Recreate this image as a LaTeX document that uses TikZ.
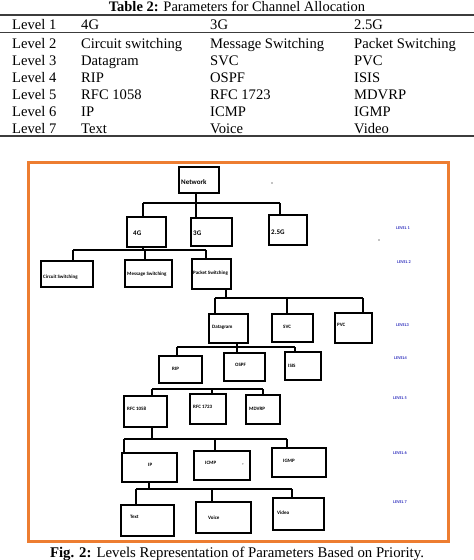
\documentclass[tikz,border=0pt]{standalone}
\usepackage{fontspec}
\setmainfont{Liberation Serif}
\newfontfamily\carl{Carlito}
\usetikzlibrary{calc}
\definecolor{frameor}{RGB}{237,125,49}
\definecolor{lvlblue}{RGB}{50,50,190}
\definecolor{rulegray}{RGB}{60,60,60}
\newcommand\bx[8]{%
  \node[box, minimum width={(#4-#2)*1pt}, minimum height={(#5-#3)*1pt}] (#1) at ({(#2+#4)/2},{(#3+#5)/2}) {};
  \node[btxt, anchor=west] (#1-t) at ({#2+#6},#7) {#8};}
\newcommand\drop[3]{\draw[conn] ([xshift=#2pt]#1.north) -- ([xshift=#2pt]#1.north |- #3);}
\newcommand\rise[3]{\draw[conn] ([xshift=#2pt]#1.south) -- ([xshift=#2pt]#1.south |- #3);}
\begin{document}
\begin{tikzpicture}[x=1pt,y=-1pt,
  box/.style={draw, line width=1.3pt, inner sep=0pt},
  btxt/.style={inner sep=0pt, font=\carl\bfseries\fontsize{5}{6}\selectfont},
  bigtxt/.style={inner sep=0pt, font=\carl\bfseries\fontsize{7}{8}\selectfont},
  conn/.style={line width=1.3pt},
  lvl/.style={inner sep=0pt, anchor=west, text=lvlblue, font=\carl\bfseries\fontsize{4.3}{5}\selectfont},
  tab/.style={inner sep=0pt, anchor=base west, font=\fontsize{14.6}{16}\selectfont},
  trule/.style={line width=1.4pt, draw=rulegray}]
\useasboundingbox (0,0) rectangle (474,560);
% ---------- table ----------
\node[inner sep=0pt, anchor=base, font=\fontsize{14.5}{16}\selectfont] (ttl) at (237,11.5) {\textbf{Table 2:} Parameters for Channel Allocation};
\coordinate (rl1) at (0,15); \coordinate (rr1) at (474,15);
\coordinate (rl2) at (0,32); \coordinate (rr2) at (474,32);
\coordinate (rl3) at (0,136); \coordinate (rr3) at (474,136);
\draw[trule] (rl1) -- (rr1);
\draw[trule, line width=1pt] (rl2) -- (rr2);
\draw[trule] (rl3) -- (rr3);
\foreach \r/\y/\a/\b/\c in {1/29/4G/3G/2.5G,
  2/48/Circuit switching/Message Switching/Packet Switching,
  3/65/Datagram/SVC/PVC,
  4/82/RIP/OSPF/ISIS,
  5/99/RFC 1058/RFC 1723/MDVRP,
  6/116/IP/ICMP/IGMP,
  7/133/Text/Voice/Video}{
  \node[tab] (lv\r) at (12,\y) {Level \r};
  \node[tab] (ca\r) at (81,\y) {\a};
  \node[tab] (cb\r) at (210,\y) {\b};
  \node[tab] (cc\r) at (354,\y) {\c};
}
% ---------- frame ----------
\draw[frameor, line width=3pt] (28,162) rectangle (448,541);
% ---------- boxes ----------
\node[box, minimum width=40pt, minimum height=26pt] (net) at (199,180) {};
\node[bigtxt, anchor=west] (net-t) at (181,182) {Network};
\node[box, minimum width=39pt, minimum height=30pt] (g4) at (146.5,232) {};
\node[bigtxt, anchor=west] (g4-t) at (133,233) {4G};
\node[box, minimum width=41pt, minimum height=28pt] (g3) at (211.5,232) {};
\node[bigtxt, anchor=west] (g3-t) at (193,233) {3G};
\node[box, minimum width=38pt, minimum height=30pt] (g25) at (288,230) {};
\node[bigtxt, anchor=west] (g25-t) at (271,232) {2.5G};
\bx{cs}{41}{261}{93}{287}{2}{277}{Circuit Switching}
\bx{ms}{125}{260}{172}{287}{2}{274}{Message Switching}
\bx{ps}{192}{259}{231}{289}{1}{273}{Packet Switching}
\bx{dg}{209}{314}{248}{343}{3}{327}{Datagram}
\bx{svc}{272}{314}{313}{342}{11}{327}{SVC}
\bx{pvc}{335}{313}{372}{343}{2}{325}{PVC}
\bx{rip}{159}{356}{202}{383}{13}{369}{RIP}
\bx{ospf}{224}{353}{265}{381}{11}{365}{OSPF}
\bx{isis}{285}{352}{321}{380}{3}{366}{ISIS}
\bx{ra}{124}{396}{167}{427}{3}{409}{RFC 1058}
\bx{rb}{190}{394}{226}{424}{3}{407}{RFC 1723}
\bx{md}{246}{395}{280}{424}{3}{409}{MDVRP}
\bx{ip}{122}{453}{177}{482}{26}{465}{IP}
\bx{icmp}{194}{451}{250}{480}{11}{463}{ICMP}
\bx{igmp}{272}{448}{326}{477}{11}{461}{IGMP}
\bx{txt}{121}{505}{174}{536}{9}{517}{Text}
\bx{voice}{196}{502}{251}{533}{12}{518}{Voice}
\bx{video}{273}{498}{324}{530}{4}{513}{Video}
% ---------- buses ----------
\coordinate (b1l) at (143,203); \coordinate (b1r) at (280,203);
\coordinate (b2l) at (73,250);  \coordinate (b2r) at (206,250);
\coordinate (b3l) at (215,298); \coordinate (b3r) at (363,298);
\coordinate (b4l) at (177,347); \coordinate (b4r) at (295,347);
\coordinate (b5l) at (152,389); \coordinate (b5r) at (263,389);
\coordinate (b6l) at (124,439); \coordinate (b6r) at (287,439);
\coordinate (b7l) at (136,489); \coordinate (b7r) at (292,489);
\foreach \i in {1,...,7}{\draw[conn] (b\i l) -- (b\i r);}
\rise{net}{-3}{b1l}
\drop{g4}{-3.5}{b1l} \drop{g3}{-15.5}{b1l} \drop{g25}{-8}{b1l}
\rise{g4}{-3.5}{b2l}
\drop{cs}{6}{b2l} \drop{ms}{-3.5}{b2l} \drop{ps}{-5.5}{b2l}
\rise{ps}{14.5}{b3l}
\drop{dg}{-13.5}{b3l} \drop{svc}{-5.5}{b3l} \drop{pvc}{9.5}{b3l}
\rise{dg}{8.5}{b4l}
\drop{rip}{-3.5}{b4l} \drop{ospf}{-7.5}{b4l} \drop{isis}{-8}{b4l}
\drop{ra}{6.5}{b5l} \drop{rb}{4}{b5l} \drop{md}{0}{b5l}
\rise{ra}{6.5}{b6l}
\drop{ip}{-25.5}{b6l} \drop{icmp}{-7}{b6l} \drop{igmp}{-12}{b6l}
\rise{ip}{-0.5}{b7l}
\drop{txt}{-11.5}{b7l} \drop{voice}{-11.5}{b7l} \drop{video}{-6.5}{b7l}
% ---------- level labels ----------
\node[lvl] (l1) at (396,228) {LEVEL 1};
\node[lvl] (l2) at (397,262) {LEVEL 2};
\node[lvl] (l3) at (396,325) {LEVEL3};
\node[lvl] (l4) at (394,358) {LEVEL4};
\node[lvl] (l5) at (393,398) {LEVEL 5};
\node[lvl] (l6) at (393,453) {LEVEL 6};
\node[lvl] (l7) at (393,502) {LEVEL 7};
% ---------- stray marks ----------
\fill (272,183) circle (0.6);
\fill (379,240) circle (0.6);
\node[btxt] (cm) at (243,464) {,};
% ---------- caption ----------
\node[inner sep=0pt, anchor=base, font=\fontsize{14.8}{16}\selectfont] (cap) at (237,557) {\textbf{Fig. 2:} Levels Representation of Parameters Based on Priority.};
\end{tikzpicture}
\end{document}
